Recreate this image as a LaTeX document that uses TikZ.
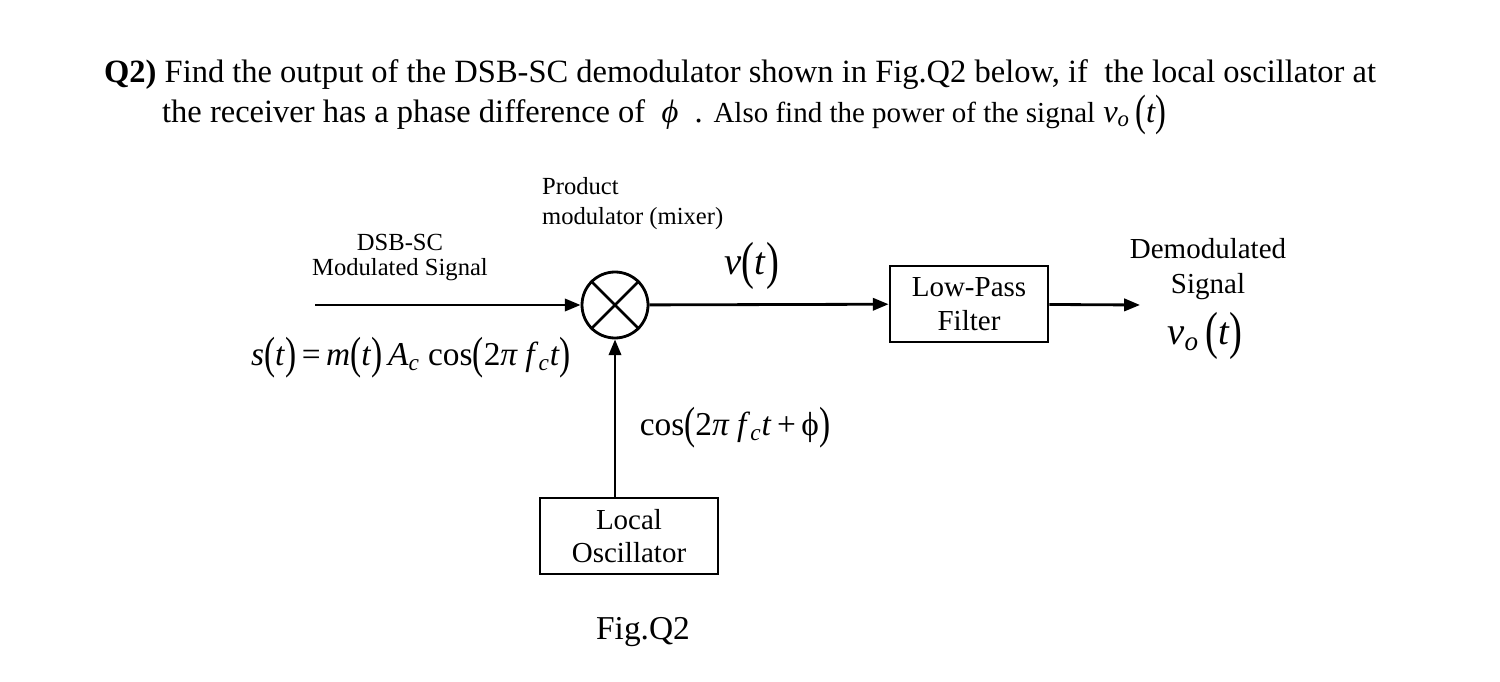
\documentclass[tikz,border=0pt]{standalone}
\usepackage{fontspec}
\setmainfont{Liberation Serif}
\usetikzlibrary{arrows.meta}
\newcommand{\vi}[1]{\textit{#1}}
\newcommand{\bp}[1]{\raisebox{-0.1em}{\scalebox{1}[1.35]{(}}#1\raisebox{-0.1em}{\scalebox{1}[1.35]{)}}}
\begin{document}
\begin{tikzpicture}[x=0.02cm,y=-0.02cm,
  wire/.style={line width=1.6pt,-{Triangle[length=9pt,width=7pt]}},
  blk/.style={draw,line width=1.6pt,minimum width=158*0.02cm,minimum height=76*0.02cm,align=center,font=\fontsize{16.5}{19}\selectfont},
  lbl/.style={font=\fontsize{14}{17}\selectfont,align=center},
  txt/.style={font=\fontsize{18.5}{22}\selectfont,anchor=west}]
\useasboundingbox (0,0) rectangle (1500,682);
\node[txt] (t1) at (98,75) {\textbf{Q2)} Find the output of the DSB-SC demodulator shown in Fig.Q2 below, if\ \ the local oscillator at};
\node[txt] (t2) at (156,115) {the receiver has a phase difference of \ \vi{ϕ}\ \ . {\fontsize{16.5}{19}\selectfont Also find the power of the signal} \vi{v}\textsubscript{\vi{o}}\,\bp{\vi{t}}};
\node[draw,circle,line width=1.6pt,minimum size=66*0.02cm,inner sep=0] (mx) at (615,305) {};
\draw[line width=1.6pt] (mx.north west) -- (mx.south east) (mx.north east) -- (mx.south west);
\coordinate (in) at (315,305);
\draw[wire] (in) -- (mx);
\node[lbl] (l1) at (400,242) {DSB-SC};
\node[lbl] (l2) at (400,270) {Modulated Signal};
\node[font=\fontsize{19}{22}\selectfont] (st) at (411,358) {\vi{s}\bp{\vi{t}}\,=\,\vi{m}\bp{\vi{t}}\,\vi{A}\textsubscript{\vi{c}} cos\bp{2\vi{π f}\textsubscript{\vi{c}}\vi{t}}};
\node[lbl,anchor=west,align=left] (pm) at (536,204) {Product\\modulator (mixer)};
\node[blk] (lpf) at (969,304) {Low-Pass\\Filter};
\draw[wire] (mx) -- (lpf);
\node[font=\fontsize{22}{24}\selectfont] (vt) at (752,266) {\vi{v}\bp{\vi{t}}};
\coordinate (out) at (1140,305);
\draw[wire] (lpf) -- (out);
\node[lbl,font=\fontsize{16.5}{19.5}\selectfont] (dm) at (1208,269) {Demodulated\\Signal};
\node[font=\fontsize{22}{24}\selectfont] (vo) at (1205,336) {\vi{v}\textsubscript{\vi{o}}\,\bp{\vi{t}}};
\node[blk,minimum width=178*0.02cm] (lo) at (629,536) {Local\\Oscillator};
\draw[wire] (lo.north -| mx) -- (mx);
\node[font=\fontsize{19}{22}\selectfont] (cs) at (735,428) {cos\bp{2\vi{π f}\textsubscript{\vi{c}}\vi{t}\,+\,ϕ}};
\node[font=\fontsize{19}{22}\selectfont] (fg) at (643,632) {Fig.Q2};
\end{tikzpicture}
\end{document}
